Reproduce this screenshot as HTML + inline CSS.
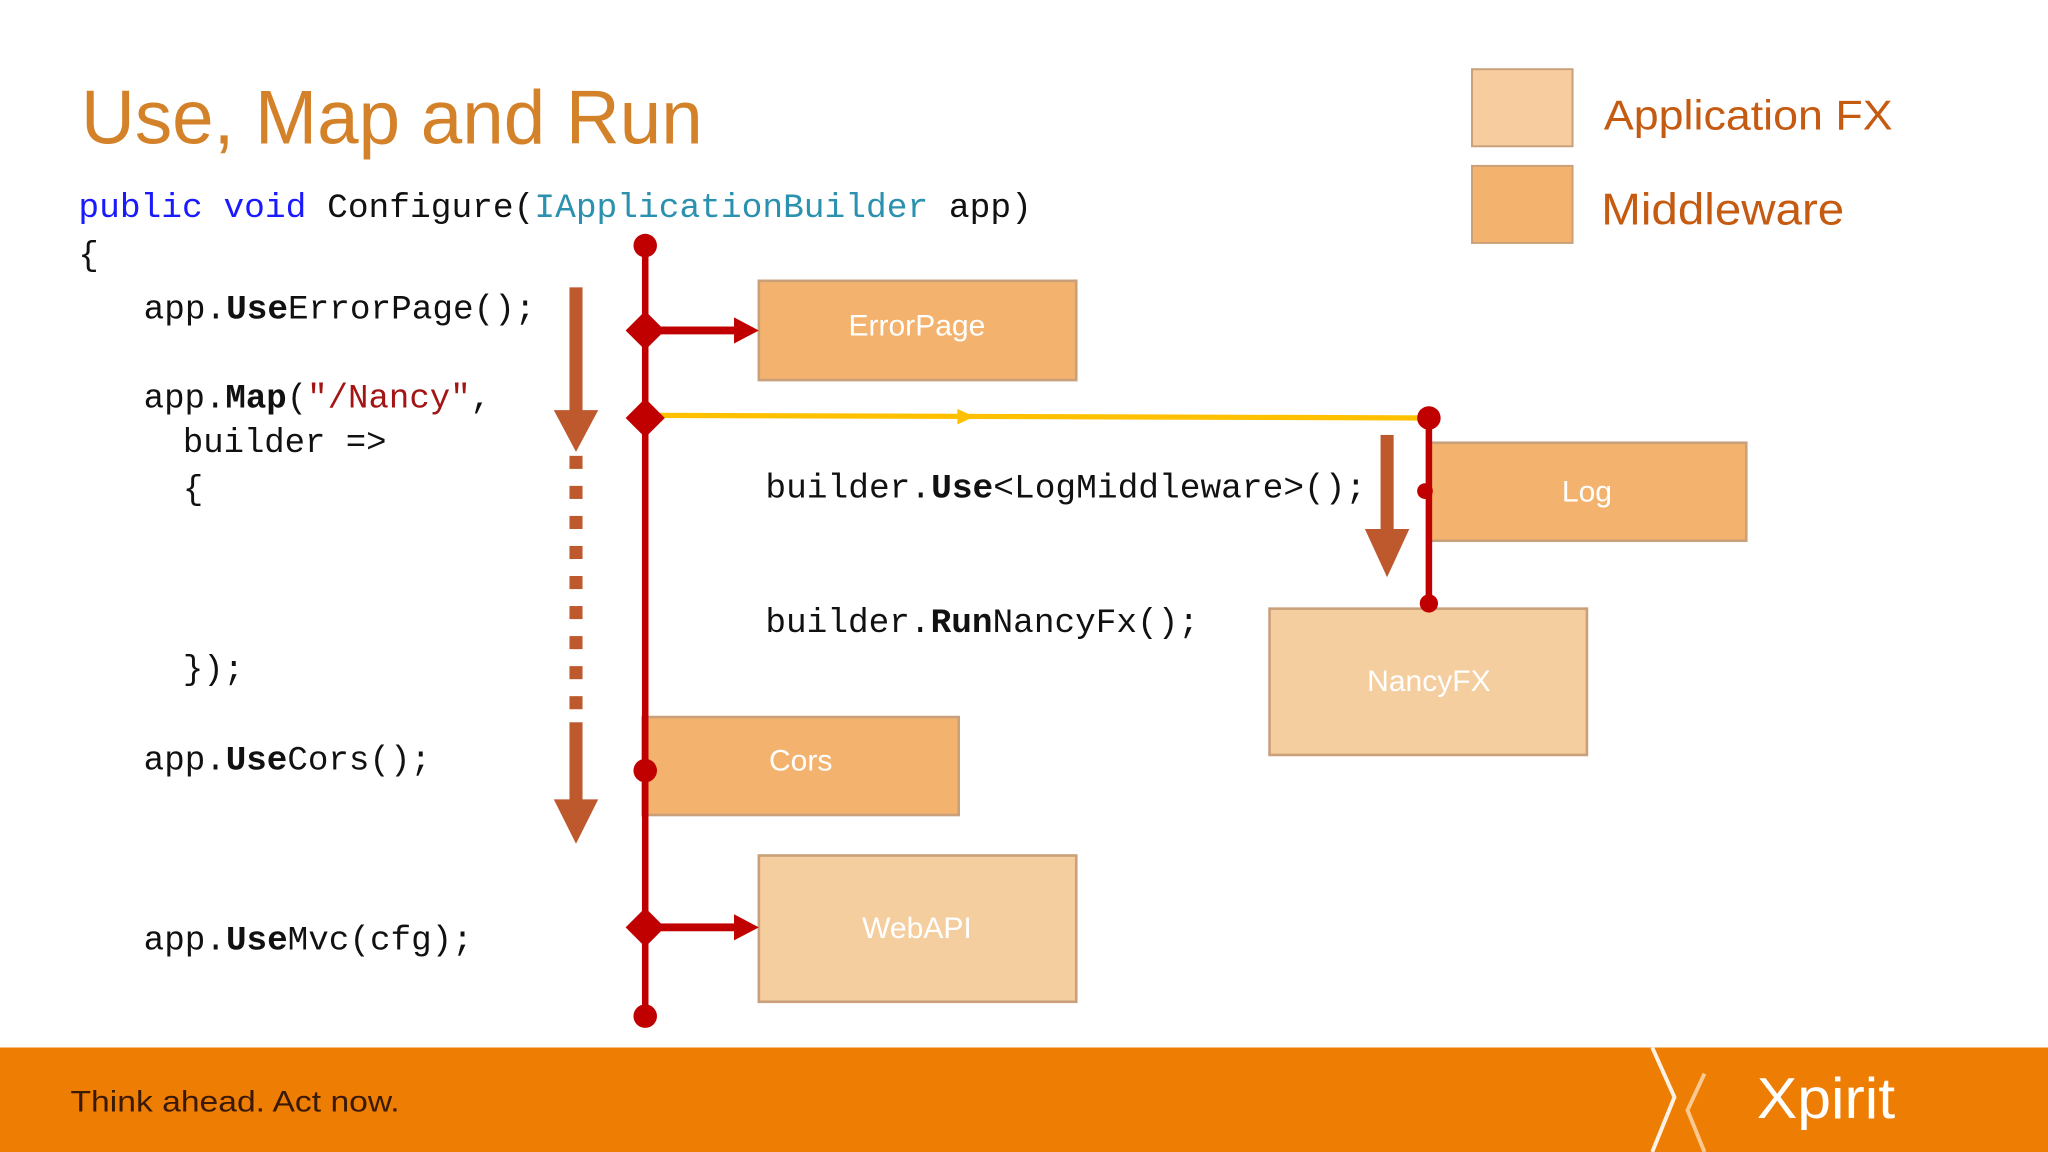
<!DOCTYPE html>
<html><head><meta charset="utf-8"><style>
html,body{margin:0;padding:0;background:#fff;}
svg{display:block;}
.code{font-family:"Liberation Mono",monospace;font-size:26px;fill:#111;}
.b{font-weight:bold;}
.lbl{font-family:"Liberation Sans",sans-serif;font-size:23px;fill:#fff;text-anchor:middle;}
</style></head><body>
<svg width="2048" height="1152" viewBox="0 0 1568 882" xmlns="http://www.w3.org/2000/svg">
<rect width="1568" height="882" fill="#fff"/>
<text x="62" y="110" font-family="Liberation Sans,sans-serif" font-size="58" fill="#D4822A" textLength="476" lengthAdjust="spacingAndGlyphs">Use, Map and Run</text>

<text class="code" x="60" y="166" textLength="730" lengthAdjust="spacingAndGlyphs"><tspan fill="#1a1aff">public void</tspan> Configure(<tspan fill="#2b91af">IApplicationBuilder</tspan> app)</text>
<text class="code" x="60" y="203">{</text>
<text class="code" x="110" y="244" textLength="300" lengthAdjust="spacingAndGlyphs">app.<tspan class="b">Use</tspan>ErrorPage();</text>
<text class="code" x="110" y="312" textLength="266" lengthAdjust="spacingAndGlyphs">app.<tspan class="b">Map</tspan>(<tspan fill="#a31515">"/Nancy"</tspan>,</text>
<text class="code" x="140" y="346">builder =&gt;</text>
<text class="code" x="140" y="382">{</text>
<text class="code" x="140" y="520">});</text>
<text class="code" x="110" y="589" textLength="220" lengthAdjust="spacingAndGlyphs">app.<tspan class="b">Use</tspan>Cors();</text>
<text class="code" x="110" y="727" textLength="252" lengthAdjust="spacingAndGlyphs">app.<tspan class="b">Use</tspan>Mvc(cfg);</text>
<text class="code" x="586" y="381" textLength="460" lengthAdjust="spacingAndGlyphs">builder.<tspan class="b">Use</tspan>&lt;LogMiddleware&gt;();</text>
<text class="code" x="586" y="484" textLength="332" lengthAdjust="spacingAndGlyphs">builder.<tspan class="b">Run</tspan>NancyFx();</text>

<!-- boxes -->
<rect x="581" y="215" width="243" height="76" fill="#F3B36E" stroke="#C9A07A" stroke-width="2"/>
<text class="lbl" x="702" y="257">ErrorPage</text>
<rect x="492" y="549" width="242" height="75" fill="#F3B36E" stroke="#C9A07A" stroke-width="2"/>
<text class="lbl" x="613" y="590">Cors</text>
<rect x="581" y="655" width="243" height="112" fill="#F5CE9F" stroke="#C9A07A" stroke-width="2"/>
<text class="lbl" x="702" y="718">WebAPI</text>
<rect x="1094" y="339" width="243" height="75" fill="#F3B36E" stroke="#C9A07A" stroke-width="2"/>
<text class="lbl" x="1215" y="384">Log</text>
<rect x="972" y="466" width="243" height="112" fill="#F5CE9F" stroke="#C9A07A" stroke-width="2"/>
<text class="lbl" x="1094" y="529">NancyFX</text>

<!-- yellow -->
<line x1="500" y1="318" x2="1094" y2="320" stroke="#FFC000" stroke-width="4"/>
<polygon points="733,313 746,319 733,325" fill="#FFC000"/>

<!-- red main line -->
<g fill="#C00000">
<rect x="491.5" y="188" width="5" height="590"/>
<circle cx="494" cy="188" r="9"/>
<circle cx="494" cy="778" r="9"/>
<polygon points="494,238 509,253 494,268 479,253"/>
<polygon points="494,305 509,320 494,335 479,320"/>
<polygon points="494,695 509,710 494,725 479,710"/>
<rect x="494" y="250" width="70" height="6"/>
<polygon points="562,243 581,253 562,263"/>
<rect x="494" y="707" width="70" height="6"/>
<polygon points="562,700 581,710 562,720"/>
<circle cx="494" cy="590" r="9"/>
<rect x="1091.5" y="320" width="5" height="142"/>
<circle cx="1094" cy="320" r="9"/>
<circle cx="1094" cy="462" r="7"/>
<circle cx="1091" cy="376" r="6"/>
</g>

<!-- brown arrows -->
<g fill="#BE582D">
<rect x="436" y="220" width="10" height="97"/>
<polygon points="424,314 458,314 441,346"/>
<rect x="436" y="349" width="10" height="10"/>
<rect x="436" y="372" width="10" height="10"/>
<rect x="436" y="395" width="10" height="10"/>
<rect x="436" y="418" width="10" height="10"/>
<rect x="436" y="441" width="10" height="10"/>
<rect x="436" y="464" width="10" height="10"/>
<rect x="436" y="487" width="10" height="10"/>
<rect x="436" y="510" width="10" height="10"/>
<rect x="436" y="533" width="10" height="10"/>
<rect x="436" y="553" width="10" height="62"/>
<polygon points="424,612 458,612 441,646"/>
<rect x="1057" y="333" width="10" height="75"/>
<polygon points="1045,405 1079,405 1062,442"/>
</g>

<!-- legend -->
<rect x="1127" y="53" width="77" height="59" fill="#F7CDA0" stroke="#C9A07A" stroke-width="1.5"/>
<rect x="1127" y="127" width="77" height="59" fill="#F3B36E" stroke="#C9A07A" stroke-width="1.5"/>
<text x="1228" y="99" font-family="Liberation Sans,sans-serif" font-size="32" fill="#C55A11" textLength="221" lengthAdjust="spacingAndGlyphs">Application FX</text>
<text x="1226" y="172" font-family="Liberation Sans,sans-serif" font-size="34" fill="#C55A11" textLength="186" lengthAdjust="spacingAndGlyphs">Middleware</text>

<!-- footer -->
<rect x="0" y="802" width="1568" height="80" fill="#EE7D03"/>
<text x="54" y="851" font-family="Liberation Sans,sans-serif" font-size="23" fill="#3a1a05" textLength="252" lengthAdjust="spacingAndGlyphs">Think ahead. Act now.</text>
<path d="M1265,802 L1282,840 L1265,882" stroke="#fff" stroke-width="3" fill="none" opacity="0.9"/>
<path d="M1305,822 L1292,850 L1305,882" stroke="#FBC890" stroke-width="3" fill="none"/>
<text x="1345" y="856" font-family="Liberation Sans,sans-serif" font-size="44" fill="#fff" textLength="106" lengthAdjust="spacingAndGlyphs">Xpirit</text>
</svg>
</body></html>
